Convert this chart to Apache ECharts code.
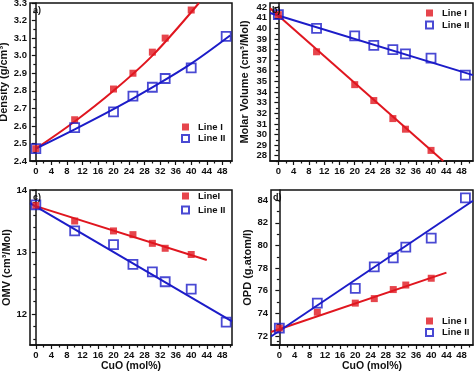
<!DOCTYPE html>
<html><head><meta charset="utf-8">
<script src="https://cdn.jsdelivr.net/npm/echarts@6/dist/echarts.min.js"></script>
<style>html,body{margin:0;padding:0;background:#fff}#c{width:474px;height:371px}</style>
</head><body><div id="c"></div>
<script>
// ---- data ----
const cuoI = [0, 10, 20, 25, 30, 33.3, 40];
const cuoII = [0, 10, 20, 25, 30, 33.3, 40, 49];
const densityI = [2.47, 2.635, 2.81, 2.90, 3.02, 3.10, 3.26];
const densityII = [2.47, 2.59, 2.68, 2.77, 2.82, 2.87, 2.93, 3.11];
const densityFitI = [[0, 2.47], [10, 2.625], [20, 2.80], [30, 3.00], [42, 3.30]];
const densityFitII = [[0, 2.47], [10, 2.58], [20, 2.695], [30, 2.82], [40, 2.955], [50, 3.115]];
const molarI = [41.3, 37.8, 34.7, 33.2, 31.5, 30.5, 28.5];
const molarII = [41.3, 40.0, 39.3, 38.4, 38.0, 37.6, 37.2, 35.6];
const molarFitI = [[-2.2, 41.9], [43.2, 27.5]];
const molarFitII = [[-2.2, 41.45], [51, 35.6]];
const omvI = [13.75, 13.50, 13.34, 13.28, 13.14, 13.06, 12.96];
const omvII = [13.76, 13.34, 13.12, 12.80, 12.68, 12.52, 12.40, 11.87];
const omvFitI = [[0, 13.74], [44, 12.87]];
const omvFitII = [[-1.5, 13.79], [50.5, 11.88]];
const opdI = [72.7, 74.1, 74.9, 75.3, 76.1, 76.5, 77.1];
const opdII = [72.7, 74.9, 76.2, 78.1, 78.9, 79.85, 80.65, 84.2];
const opdFitI = [[-2.2, 72.35], [44, 77.6]];
const opdFitII = [[-2.2, 71.95], [51, 83.95]];
const xTicks = [0, 4, 8, 12, 16, 20, 24, 28, 32, 36, 40, 44, 48];
const xMinor = [2, 6, 10, 14, 18, 22, 26, 30, 34, 38, 42, 46, 50];
const densityTicks = [2.4, 2.5, 2.6, 2.7, 2.8, 2.9, 3.0, 3.1, 3.2, 3.3];
const densityMinor = [2.45, 2.55, 2.65, 2.75, 2.85, 2.95, 3.05, 3.15, 3.25];
const molarTicks = [28, 29, 30, 31, 32, 33, 34, 35, 36, 37, 38, 39, 40, 41, 42];
const molarMinor = [27.5, 28.5, 29.5, 30.5, 31.5, 32.5, 33.5, 34.5, 35.5, 36.5, 37.5, 38.5, 39.5, 40.5, 41.5];
const omvTicks = [12, 13, 14];
const omvMinor = [11.6, 11.8, 12.2, 12.4, 12.6, 12.8, 13.2, 13.4, 13.6, 13.8];
const opdTicks = [72, 74, 76, 78, 80, 82, 84];
const opdMinor = [71.5, 73, 75, 77, 79, 81, 83];

const RED = '#e0161f', BLUE = '#1c1cc8', INK = '#111';
const FONT = 'Liberation Sans, Arial, sans-serif';

const grids = [
  {left: 30, top: 3, width: 202, height: 158},
  {left: 270, top: 3, width: 203, height: 158},
  {left: 30, top: 190, width: 202, height: 155},
  {left: 271, top: 190, width: 202, height: 155}
];
const panels = [
  {xmin: -1.5, xmax: 50.5, ymin: 2.4, ymax: 3.3, yt: densityTicks, ym: densityMinor, dec: 1, name: 'Density (g/cm³)', gap: 20, xname: ''},
  {xmin: -2.2, xmax: 51, ymin: 27.5, ymax: 42.4, yt: molarTicks, ym: molarMinor, dec: 0, name: 'Molar Volume (cm³/Mol)', gap: 20, xname: ''},
  {xmin: -1.5, xmax: 50.5, ymin: 11.5, ymax: 14, yt: omvTicks, ym: omvMinor, dec: 0, name: 'OMV (cm³/Mol)', gap: 15, xname: 'CuO (mol%)'},
  {xmin: -2.2, xmax: 51, ymin: 71.2, ymax: 84.9, yt: opdTicks, ym: opdMinor, dec: 0, name: 'OPD (g.atom/l)', gap: 18, xname: 'CuO (mol%)'}
];
const lbl = {fontFamily: FONT, fontWeight: 'bold', fontSize: 9.5, color: INK};
const xAxis = [], yAxis = [];
panels.forEach((p, i) => {
  xAxis.push({type: 'value', gridIndex: i, min: p.xmin, max: p.xmax, position: 'bottom',
    axisLine: {lineStyle: {color: INK, width: 1.5}},
    axisTick: {customValues: xTicks, length: 4, lineStyle: {color: INK, width: 1.2}},
    axisLabel: Object.assign({customValues: xTicks, margin: 5}, lbl),
    splitLine: {show: false},
    name: p.xname, nameLocation: 'middle', nameGap: 16,
    nameTextStyle: {fontFamily: FONT, fontWeight: 'bold', fontSize: 10.5, color: INK}});
  xAxis.push({type: 'value', gridIndex: i, min: p.xmin, max: p.xmax, position: 'bottom',
    axisLine: {show: false},
    axisTick: {customValues: xMinor, length: 2.5, lineStyle: {color: INK, width: 1.2}},
    axisLabel: {show: false}, splitLine: {show: false}});
  yAxis.push({type: 'value', gridIndex: i, min: p.ymin, max: p.ymax, position: 'left',
    axisLine: {show: true, lineStyle: {color: INK, width: 1.5}},
    axisTick: {show: true, customValues: p.yt, length: 4, lineStyle: {color: INK, width: 1.2}},
    axisLabel: Object.assign({customValues: p.yt, margin: 3, formatter: v => v.toFixed(p.dec)}, lbl),
    splitLine: {show: false},
    name: p.name, nameLocation: 'middle', nameRotate: 90, nameGap: p.gap,
    nameTextStyle: {fontFamily: FONT, fontWeight: 'bold', fontSize: 11, color: INK}});
  yAxis.push({type: 'value', gridIndex: i, min: p.ymin, max: p.ymax, position: 'left',
    axisLine: {show: false},
    axisTick: {show: true, customValues: p.ym, length: 2.5, lineStyle: {color: INK, width: 1.2}},
    axisLabel: {show: false}, splitLine: {show: false}});
});

const pts = (xs, ys) => ys.map((y, k) => [xs[k], y]);
const series = [];
function addPanel(i, nI, nII, dI, dII, fI, fII, smooth) {
  series.push({type: 'line', name: 'fit' + i + 'a', xAxisIndex: 2 * i, yAxisIndex: 2 * i, data: fI,
    smooth: smooth, showSymbol: false, symbol: 'none', lineStyle: {color: RED, width: 2}, clip: true, z: 2, silent: true});
  series.push({type: 'line', name: 'fit' + i + 'b', xAxisIndex: 2 * i, yAxisIndex: 2 * i, data: fII,
    smooth: smooth, showSymbol: false, symbol: 'none', lineStyle: {color: BLUE, width: 2}, clip: true, z: 2, silent: true});
  series.push({type: 'scatter', name: nI, xAxisIndex: 2 * i, yAxisIndex: 2 * i, data: pts(cuoI, dI),
    symbol: 'rect', symbolSize: 7, itemStyle: {color: RED}, z: 4});
  series.push({type: 'scatter', name: nII, xAxisIndex: 2 * i, yAxisIndex: 2 * i, data: pts(cuoII, dII),
    symbol: 'rect', symbolSize: 9, itemStyle: {color: 'rgba(255,255,255,0)', borderColor: BLUE, borderWidth: 1.8}, z: 5});
}
addPanel(0, 'Line I', 'Line II', densityI, densityII, densityFitI, densityFitII, 0.35);
addPanel(1, 'Line I', 'Line II', molarI, molarII, molarFitI, molarFitII, false);
addPanel(2, 'LineI', 'Line II', omvI, omvII, omvFitI, omvFitII, false);
addPanel(3, 'Line I', 'Line II', opdI, opdII, opdFitI, opdFitII, false);

const legText = {fontFamily: FONT, fontWeight: 'bold', fontSize: 9.5, color: INK, lineHeight: 9, padding: [0, 0, 0, 4]};
function leg(left, top, gap, names) {
  return {left: left, top: top, orient: 'vertical', padding: 0, itemGap: gap, itemWidth: 7, itemHeight: 7,
    data: names.map(n => ({name: n, icon: 'rect'})), textStyle: legText, selectedMode: false};
}
const legends = [
  leg(181, 122, 1.5, ['Line I', 'Line II']),
  leg(425, 8, 2, ['Line I', 'Line II']),
  leg(181, 191, 4, ['LineI', 'Line II']),
  leg(425, 316, 1.5, ['Line I', 'Line II'])
];

const tag = (x, y, t) => ({type: 'text', left: x, top: y, z: 10,
  style: {text: t, font: 'bold 9px ' + FONT, fill: INK}});

const chart = echarts.init(document.getElementById('c'), null, {renderer: 'canvas'});
chart.setOption({
  animation: false,
  backgroundColor: '#fff',
  grid: grids.map(g => Object.assign({show: true, borderColor: INK, borderWidth: 1.5, backgroundColor: 'transparent', containLabel: false, outerBoundsMode: 'none'}, g)),
  xAxis: xAxis, yAxis: yAxis, series: series, legend: legends,
  graphic: [tag(33, 6, 'a)'), tag(272, 6, 'b)'), tag(33, 193, 'c)'), tag(273, 193, 'd)')]
});
</script></body></html>
